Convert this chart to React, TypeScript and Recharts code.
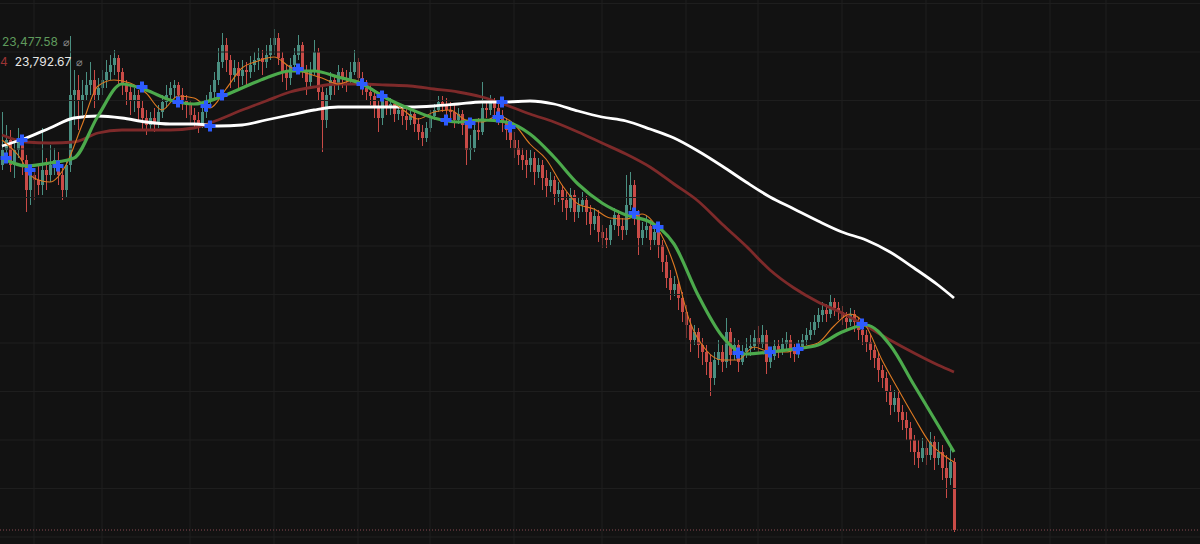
import { ComposedChart, Bar, Line, XAxis, YAxis, ReferenceLine } from 'recharts';

// candles (price points), open of each candle = previous close
const firstOpen = 24915;
const closes = [
  24990, 25040, 24915, 24990, 25040, 24940, 24790, 24865, 24840, 24815,
  24890, 24865, 24915, 24940, 24865, 24790, 24915, 25265, 25290, 25240,
  25265, 25315, 25340, 25265, 25300, 25340, 25380, 25415, 25450, 25380,
  25315, 25280, 25240, 25265, 25200, 25150, 25115, 25150, 25120, 25180,
  25230, 25265, 25300, 25315, 25265, 25240, 25215, 25165, 25140, 25115,
  25180, 25240, 25280, 25340, 25430, 25515, 25440, 25365, 25400, 25360,
  25390, 25380, 25415, 25440, 25450, 25430, 25465, 25515, 25550, 25450,
  25380, 25350, 25415, 25465, 25515, 25390, 25330, 25390, 25480, 25280,
  25140, 25265, 25340, 25315, 25380, 25350, 25340, 25380, 25430, 25350,
  25300, 25280, 25260, 25200, 25150, 25240, 25200, 25220, 25170, 25190,
  25160, 25140, 25170, 25120, 25080, 25050, 25100, 25160, 25190, 25230,
  25220, 25190, 25180, 25140, 25170, 25115, 24990, 25000, 25090, 25080,
  25200, 25190, 25230, 25200, 25160, 25130, 25090, 25040, 25000, 24965,
  24940, 24915, 24950, 24880, 24915, 24850, 24810, 24840, 24770, 24790,
  24740, 24700, 24765, 24680, 24715, 24740, 24680, 24620, 24660, 24580,
  24550, 24540, 24615, 24665, 24610, 24590, 24715, 24815, 24665, 24550,
  24590, 24610, 24540, 24580, 24515, 24430, 24350, 24290, 24320, 24250,
  24180, 24115, 24040, 24080, 24015, 23980, 23930, 23850, 23940, 23980,
  23930, 24080, 23965, 24015, 23930, 23980, 24000, 24010, 24050, 24020,
  24065, 23930, 23960, 24010, 23990, 24020, 24040, 23990, 23970, 24010,
  24040, 24065, 24090, 24130, 24165, 24190, 24170, 24230, 24200, 24180,
  24150, 24130, 24170, 24130, 24090, 24065, 24030, 23990, 23950, 23890,
  23850, 23780, 23715, 23750, 23680, 23640, 23600, 23540, 23480, 23450,
  23500, 23465, 23530, 23450, 23480, 23400, 23350, 23430, 23090,
];
const highs = [
  25180, 25115, 25090, 25040, 25100, 25065, 24965, 24900, 24890, 24915,
  25100, 24950, 25015, 25000, 24980, 24900, 24940, 25560, 25390, 25365,
  25340, 25380, 25430, 25390, 25350, 25390, 25440, 25465, 25490, 25465,
  25400, 25340, 25315, 25300, 25290, 25240, 25190, 25180, 25200, 25215,
  25265, 25315, 25330, 25340, 25330, 25300, 25265, 25240, 25200, 25180,
  25215, 25265, 25315, 25380, 25500, 25575, 25550, 25465, 25440, 25430,
  25440, 25430, 25460, 25480, 25500, 25490, 25515, 25550, 25595, 25575,
  25480, 25415, 25450, 25500, 25565, 25530, 25415, 25430, 25540, 25500,
  25315, 25300, 25380, 25365, 25415, 25400, 25390, 25430, 25490, 25450,
  25380, 25340, 25315, 25290, 25240, 25265, 25265, 25250, 25240, 25220,
  25215, 25200, 25210, 25190, 25150, 25115, 25130, 25190, 25220, 25260,
  25260, 25250, 25230, 25215, 25200, 25190, 25140, 25065, 25115, 25150,
  25330, 25240, 25265, 25250, 25220, 25190, 25150, 25115, 25080, 25040,
  25000, 24990, 24990, 24980, 24950, 24940, 24890, 24880, 24860, 24830,
  24815, 24780, 24800, 24790, 24750, 24780, 24760, 24715, 24700, 24690,
  24615, 24600, 24640, 24700, 24690, 24650, 24865, 24880, 24840, 24690,
  24630, 24665, 24640, 24615, 24600, 24540, 24465, 24390, 24360, 24340,
  24280, 24215, 24150, 24115, 24100, 24050, 24015, 23965, 23980, 24040,
  24015, 24150, 24100, 24050, 24040, 24015, 24050, 24065, 24090, 24110,
  24115, 24090, 24000, 24040, 24040, 24050, 24080, 24065, 24020, 24040,
  24070, 24100, 24130, 24165, 24200, 24230, 24220, 24270, 24250, 24230,
  24210, 24180, 24200, 24190, 24150, 24115, 24090, 24065, 24015, 23980,
  23915, 23880, 23815, 23790, 23780, 23715, 23680, 23630, 23565, 23540,
  23550, 23540, 23580, 23560, 23530, 23515, 23465, 23515, 23450,
];
const lows = [
  24890, 24965, 24880, 24850, 24950, 24865, 24680, 24715, 24740, 24765,
  24765, 24790, 24830, 24865, 24815, 24740, 24750, 24880, 25115, 25090,
  25165, 25240, 25265, 25200, 25240, 25265, 25300, 25340, 25365, 25315,
  25265, 25215, 25165, 25180, 25140, 25090, 25065, 25090, 25080, 25100,
  25150, 25200, 25240, 25250, 25230, 25190, 25150, 25115, 25100, 25075,
  25100, 25150, 25215, 25250, 25315, 25400, 25380, 25300, 25330, 25300,
  25315, 25315, 25350, 25380, 25390, 25365, 25400, 25440, 25465, 25415,
  25330, 25290, 25315, 25390, 25440, 25350, 25265, 25300, 25365, 25240,
  24980, 25100, 25240, 25265, 25290, 25300, 25280, 25315, 25365, 25315,
  25265, 25240, 25215, 25150, 25080, 25115, 25165, 25165, 25130, 25140,
  25115, 25090, 25115, 25080, 25040, 25010, 25030, 25080, 25140, 25180,
  25180, 25150, 25140, 25100, 25120, 25065, 24915, 24940, 24980, 25040,
  25065, 25150, 25165, 25150, 25115, 25080, 25040, 25000, 24950, 24915,
  24890, 24850, 24880, 24815, 24850, 24790, 24750, 24780, 24715, 24730,
  24680, 24640, 24680, 24630, 24650, 24680, 24615, 24565, 24590, 24530,
  24500, 24500, 24515, 24590, 24560, 24540, 24565, 24690, 24615, 24465,
  24515, 24550, 24490, 24515, 24450, 24380, 24300, 24240, 24260, 24190,
  24130, 24050, 23980, 24015, 23950, 23915, 23865, 23760, 23815, 23915,
  23880, 23900, 23915, 23940, 23880, 23915, 23950, 23960, 23990, 23980,
  24000, 23870, 23900, 23940, 23950, 23965, 23990, 23950, 23930, 23950,
  23990, 24015, 24040, 24065, 24100, 24130, 24130, 24150, 24160, 24140,
  24115, 24090, 24110, 24080, 24040, 24015, 23980, 23940, 23900, 23830,
  23800, 23730, 23665, 23680, 23630, 23590, 23540, 23480, 23415, 23400,
  23430, 23415, 23440, 23390, 23415, 23340, 23250, 23315, 23080,
];

// moving averages read at every 6th candle (last one at the final candle)
const slowIdx = [...Array.from({ length: 40 }, (_, k) => k * 6), 238];
const maGreen = [
  24950, 24910, 24925, 24950, 25160, 25320, 25290, 25240, 25220, 25250,
  25300, 25350, 25385, 25385, 25355, 25320, 25250, 25195, 25150, 25130,
  25140, 25130, 25070, 24955, 24820, 24725, 24665, 24630, 24520, 24265,
  24060, 23970, 23980, 23995, 24015, 24080, 24115, 24015, 23815, 23615,
  23480,
];
const maRed = [
  25065, 25030, 25025, 25030, 25075, 25090, 25090, 25090, 25100, 25140,
  25190, 25235, 25280, 25305, 25320, 25320, 25315, 25310, 25295, 25280,
  25255, 25215, 25170, 25130, 25080, 25025, 24970, 24905, 24820, 24735,
  24620, 24510, 24390, 24300, 24230, 24175, 24110, 24040, 23975, 23915,
  23880,
];
const maWhite = [
  25010, 25050, 25100, 25150, 25160, 25150, 25130, 25120, 25120, 25110,
  25115, 25140, 25165, 25190, 25205, 25205, 25205, 25205, 25210, 25220,
  25230, 25230, 25235, 25220, 25185, 25155, 25135, 25095, 25050, 24985,
  24910, 24830, 24755, 24695, 24635, 24580, 24540, 24480, 24400, 24315,
  24250,
];
// fast average read at every 4th candle
const fastIdx = [...Array.from({ length: 60 }, (_, k) => k * 4), 238];
const maOrange = [
  25040, 24965, 24850, 24830, 24915, 25115, 25310, 25340, 25325, 25275,
  25190, 25260, 25250, 25200, 25295, 25400, 25435, 25455, 25405, 25375,
  25350, 25320, 25340, 25300, 25255, 25195, 25145, 25180, 25190, 25140,
  25130, 25160, 25120, 25020, 24945, 24815, 24720, 24695, 24650, 24645,
  24670, 24595, 24415, 24130, 23990, 23940, 23940, 24005, 23980, 23980,
  24005, 24025, 24110, 24170, 24110, 23940, 23795, 23655, 23525, 23455,
  23430,
];

// cross markers (candle index, price)
const crossIdx = [1, 5, 7, 14, 35, 44, 51, 52, 55, 74, 90, 95, 111, 117, 124, 125, 127, 158, 164, 184, 192, 199, 215];
const crossVal = [
  24950, 25040, 24890, 24910, 25305, 25230, 25210, 25110, 25265, 25395,
  25320, 25260, 25140, 25125, 25155, 25230, 25105, 24675, 24605, 23975,
  23980, 23995, 24120,
];

const slots = 300;
const gridIdx = [8, 25, 47, 68, 89, 107, 128, 150, 171, 189, 210, 231, 245, 262, 276];
const gridPrices = [25722.5, 25480, 25237.5, 24995, 24752.5, 24510, 24267.5, 24025, 23782.5, 23540, 23297.5, 23055];

const UP = '#4f9a8b';
const DOWN = '#d9504c';
const GRID = '#1e1e1e';

const rows: any[] = Array.from({ length: slots }, (_, i) => {
  const row: any = { i };
  if (i < closes.length) {
    row.open = i === 0 ? firstOpen : closes[i - 1];
    row.close = closes[i];
    row.high = highs[i];
    row.low = lows[i];
    row.range = [lows[i], highs[i]];
  }
  return row;
});
slowIdx.forEach((idx, k) => {
  rows[idx].green = maGreen[k];
  rows[idx].red = maRed[k];
  rows[idx].white = maWhite[k];
});
fastIdx.forEach((idx, k) => {
  rows[idx].orange = maOrange[k];
});
crossIdx.forEach((idx, k) => {
  rows[idx].cross = crossVal[k];
});

const Candle = (props: any) => {
  const { x, y, width, height, payload } = props;
  if (!payload || payload.high == null) return <g />;
  const top = Math.min(y, y + height);
  const h = Math.abs(height);
  const span = payload.high - payload.low || 1;
  const toY = (v: number) => top + ((payload.high - v) / span) * h;
  const color = payload.close >= payload.open ? UP : DOWN;
  const cx = Math.floor(x + width / 2);
  const bTop = toY(Math.max(payload.open, payload.close));
  const bBot = toY(Math.min(payload.open, payload.close));
  return (
    <g opacity={0.92}>
      <rect x={cx} y={top} width={1} height={Math.max(h, 1)} fill={color} />
      <rect x={cx - 1} y={bTop} width={3} height={Math.max(bBot - bTop, 1)} fill={color} />
    </g>
  );
};

const CrossDot = (props: any) => {
  const { cx, cy, value, index } = props;
  if (value == null || cy == null || isNaN(cy)) return <g key={`c${index}`} />;
  const a = 5.5, t = 2;
  return (
    <path
      key={`c${index}`}
      d={`M${cx - t},${cy - a}h${2 * t}v${a - t}h${a - t}v${2 * t}h${-(a - t)}v${a - t}h${-2 * t}v${-(a - t)}h${-(a - t)}v${-2 * t}h${a - t}z`}
      fill="#2d5bff"
    />
  );
};

export default function App() {
  return (
    <div style={{ position: 'relative', width: 1200, height: 544, background: '#121212', overflow: 'hidden' }}>
      <style>{'body{margin:0;background:#121212}'}</style>
      <ComposedChart width={1200} height={544} data={rows} margin={{ top: 0, right: 0, bottom: 0, left: 0 }} barCategoryGap={0}>
        <XAxis dataKey="i" type="category" height={0} tick={false} axisLine={false} tickLine={false} />
        <YAxis type="number" domain={[23020, 25740]} allowDataOverflow width={0} tick={false} axisLine={false} tickLine={false} />
        {gridIdx.map((g) => (
          <ReferenceLine key={`v${g}`} x={g} stroke={GRID} strokeWidth={1} />
        ))}
        {gridPrices.map((p) => (
          <ReferenceLine key={`h${p}`} y={p} stroke={GRID} strokeWidth={1} />
        ))}
        <ReferenceLine y={closes[closes.length - 1]} stroke="#8a4b52" strokeDasharray="1 2" />
        <Bar dataKey="range" barSize={3} shape={Candle} isAnimationActive={false} />
        <Line dataKey="red" type="monotone" stroke="#7e2a2a" strokeWidth={2.8} dot={false} activeDot={false} connectNulls isAnimationActive={false} />
        <Line dataKey="white" type="monotone" stroke="#ffffff" strokeWidth={2.8} dot={false} activeDot={false} connectNulls isAnimationActive={false} />
        <Line dataKey="orange" type="monotone" stroke="#de7a22" strokeWidth={1.1} dot={false} activeDot={false} connectNulls isAnimationActive={false} />
        <Line dataKey="green" type="monotone" stroke="#4caa4c" strokeWidth={3.2} dot={false} activeDot={false} connectNulls isAnimationActive={false} />
        <Line dataKey="cross" stroke="none" dot={CrossDot} activeDot={false} isAnimationActive={false} />
      </ComposedChart>
      <div style={{ position: 'absolute', left: 2, top: 34, font: '12px Inter, sans-serif', color: '#5f9a5c', whiteSpace: 'nowrap' }}>
        23,477.58 <span style={{ color: '#8c8c8c', fontSize: 11, marginLeft: 2 }}>⌀</span>
      </div>
      <div style={{ position: 'absolute', left: 0, top: 54, font: '12px Inter, sans-serif', color: '#e6e6e6', whiteSpace: 'nowrap' }}>
        <span style={{ color: '#9b3434' }}>4</span>
        <span style={{ marginLeft: 7 }}>23,792.67</span>
        <span style={{ color: '#8c8c8c', fontSize: 11, marginLeft: 5 }}>⌀</span>
      </div>
    </div>
  );
}
